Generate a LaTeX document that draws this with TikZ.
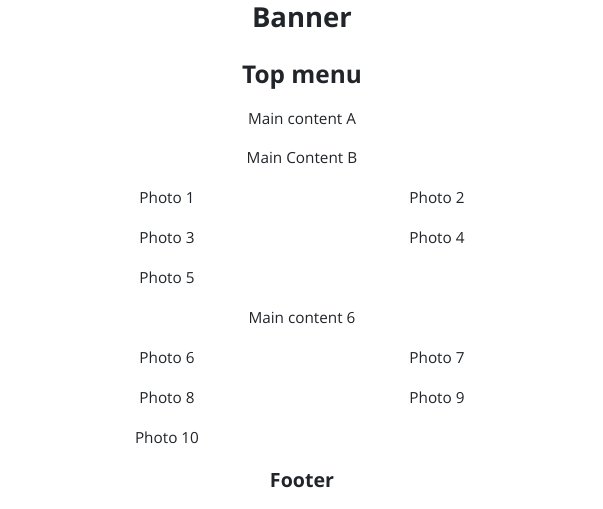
\documentclass[tikz,border=0pt]{standalone}
\usepackage{fontspec}
\setmainfont{Open Sans}
\definecolor{txt}{HTML}{212529}
\begin{document}
\begin{tikzpicture}[x=1pt,y=-1pt,
  every node/.style={text=txt,inner sep=0pt,anchor=center},
  body/.style={font=\fontsize{15.3}{17}\selectfont},
  h1/.style={font=\fontsize{27.5}{32}\selectfont\bfseries},
  h2/.style={font=\fontsize{24.4}{28}\selectfont\bfseries},
  h3/.style={font=\fontsize{19.6}{22}\selectfont\bfseries}]
\useasboundingbox (0,0) rectangle (603,509);
\node[h1] (banner) at (302,18) {Banner};
\node[h2] (topmenu) at (302,78) {Top menu};
\node[body] (mca) at (302,119) {Main content A};
\node[body] (mcb) at (302,158) {Main Content B};
\node[body] (p1) at (167,198) {Photo 1};
\node[body] (p2) at (437,198) {Photo 2};
\node[body] (p3) at (167,238) {Photo 3};
\node[body] (p4) at (437,238) {Photo 4};
\node[body] (p5) at (167,278) {Photo 5};
\node[body] (mc6) at (302,318) {Main content 6};
\node[body] (p6) at (167,358) {Photo 6};
\node[body] (p7) at (437,358) {Photo 7};
\node[body] (p8) at (167,398) {Photo 8};
\node[body] (p9) at (437,398) {Photo 9};
\node[body] (p10) at (167,438) {Photo 10};
\node[h3] (footer) at (302,481) {Footer};
\end{tikzpicture}
\end{document}
